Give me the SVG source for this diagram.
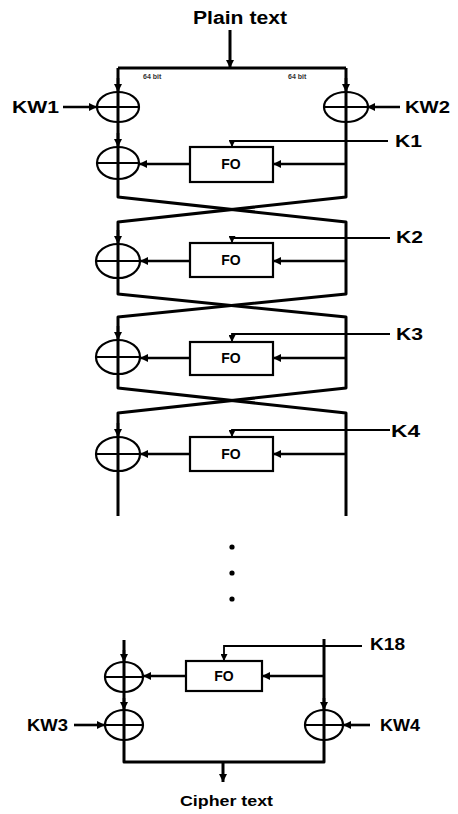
<svg xmlns="http://www.w3.org/2000/svg" width="458" height="814" viewBox="0 0 458 814">
<style>
.bg{fill:#fff}
.w{fill:none;stroke:#000;stroke-width:3;stroke-linejoin:round}
.a{fill:none;stroke:#000;stroke-width:2.6}
.k{fill:none;stroke:#000;stroke-width:1.8}
.x{fill:none;stroke:#000;stroke-width:2.2}
.box{fill:#fff;stroke:#000;stroke-width:2.2}
.t{font-family:"Liberation Sans",Arial,sans-serif;font-weight:bold;fill:#000}
.lab{font-size:17px}
.fo{font-size:14px;text-anchor:middle}
.sm{font-size:7px;fill:#333}
</style>
<defs>
<marker id="ah" viewBox="0 0 10 10" refX="10" refY="5" markerWidth="9" markerHeight="8" markerUnits="userSpaceOnUse" orient="auto">
<path d="M0,0 L10,5 L0,10 z" fill="#000"/>
</marker>
<marker id="ahs" viewBox="0 0 10 10" refX="10" refY="5" markerWidth="7" markerHeight="7" markerUnits="userSpaceOnUse" orient="auto">
<path d="M0,0 L10,5 L0,10 z" fill="#000"/>
</marker>
</defs>
<rect class="bg" width="458" height="814"/>

<g id="connectors">
  <line class="w" x1="230" y1="30" x2="230" y2="68" marker-end="url(#ah)"/>
  <line class="w" x1="118" y1="68" x2="346" y2="68"/>
  <path class="w" d="M118,68 V197 L346,222 V294 L118,317 V388 L346,413 V516"/>
  <path class="w" d="M346,68 V197 L118,222 V294 L346,317 V388 L118,413 V516"/>
  <line class="a" x1="118" y1="78" x2="118" y2="92" marker-end="url(#ah)"/>
  <line class="a" x1="346" y1="78" x2="346" y2="92" marker-end="url(#ah)"/>
  <line class="a" x1="118" y1="133" x2="118" y2="147" marker-end="url(#ah)"/>
  <line class="a" x1="118" y1="230" x2="118" y2="244" marker-end="url(#ah)"/>
  <line class="a" x1="118" y1="326" x2="118" y2="340" marker-end="url(#ah)"/>
  <line class="a" x1="118" y1="423" x2="118" y2="437" marker-end="url(#ah)"/>
  <line class="a" x1="63" y1="107" x2="97" y2="107" marker-end="url(#ah)"/>
  <line class="a" x1="400" y1="107" x2="367" y2="107" marker-end="url(#ah)"/>
  <polyline class="k" points="388,141 232,141 232,147" marker-end="url(#ahs)"/>
  <line class="a" x1="346" y1="164" x2="273" y2="164" marker-end="url(#ah)"/>
  <line class="a" x1="190" y1="164" x2="139" y2="164" marker-end="url(#ah)"/>
  <polyline class="k" points="390,238 232,238 232,243" marker-end="url(#ahs)"/>
  <line class="a" x1="346" y1="261" x2="273" y2="261" marker-end="url(#ah)"/>
  <line class="a" x1="190" y1="261" x2="140" y2="261" marker-end="url(#ah)"/>
  <polyline class="k" points="390,334 232,334 232,342" marker-end="url(#ahs)"/>
  <line class="a" x1="346" y1="358" x2="273" y2="358" marker-end="url(#ah)"/>
  <line class="a" x1="190" y1="358" x2="140" y2="358" marker-end="url(#ah)"/>
  <polyline class="k" points="390,430 232,430 232,437" marker-end="url(#ahs)"/>
  <line class="a" x1="346" y1="454" x2="273" y2="454" marker-end="url(#ah)"/>
  <line class="a" x1="190" y1="454" x2="140" y2="454" marker-end="url(#ah)"/>
  <path class="w" d="M124,640 V762 H324 V639"/>
  <line class="a" x1="124" y1="650" x2="124" y2="662" marker-end="url(#ah)"/>
  <line class="a" x1="124" y1="698" x2="124" y2="710" marker-end="url(#ah)"/>
  <line class="a" x1="324" y1="698" x2="324" y2="710" marker-end="url(#ah)"/>
  <polyline class="k" points="362,646 224,646 224,661" marker-end="url(#ahs)"/>
  <line class="a" x1="324" y1="676" x2="262" y2="676" marker-end="url(#ah)"/>
  <line class="a" x1="186" y1="676" x2="143" y2="676" marker-end="url(#ah)"/>
  <line class="a" x1="74" y1="725" x2="105" y2="725" marker-end="url(#ah)"/>
  <line class="a" x1="370" y1="725" x2="343" y2="725" marker-end="url(#ah)"/>
  <line class="w" x1="223" y1="762" x2="223" y2="782" marker-end="url(#ah)"/>
</g>

<g id="xor-kw1"><ellipse class="x" cx="118" cy="107" rx="21" ry="15"/><line class="x" x1="97" y1="107" x2="139" y2="107"/></g>
<g id="xor-kw2"><ellipse class="x" cx="346" cy="107" rx="22" ry="15"/><line class="x" x1="324" y1="107" x2="368" y2="107"/></g>
<g id="xor-r1"><ellipse class="x" cx="118" cy="163" rx="21" ry="16"/><line class="x" x1="97" y1="163" x2="139" y2="163"/></g>
<g id="xor-r2"><ellipse class="x" cx="118" cy="261" rx="22" ry="17"/><line class="x" x1="96" y1="261" x2="140" y2="261"/></g>
<g id="xor-r3"><ellipse class="x" cx="118" cy="357" rx="22" ry="17"/><line class="x" x1="96" y1="357" x2="140" y2="357"/></g>
<g id="xor-r4"><ellipse class="x" cx="118" cy="454" rx="22" ry="17"/><line class="x" x1="96" y1="454" x2="140" y2="454"/></g>
<g id="xor-r18"><ellipse class="x" cx="124" cy="677" rx="19" ry="15"/><line class="x" x1="105" y1="677" x2="143" y2="677"/></g>
<g id="xor-kw3"><ellipse class="x" cx="124" cy="725" rx="19" ry="15"/><line class="x" x1="105" y1="725" x2="143" y2="725"/></g>
<g id="xor-kw4"><ellipse class="x" cx="324" cy="725" rx="19" ry="15"/><line class="x" x1="305" y1="725" x2="343" y2="725"/></g>

<g id="fo1"><rect class="box" x="190" y="147" width="83" height="35"/><text class="t fo" x="231" y="169">FO</text></g>
<g id="fo2"><rect class="box" x="190" y="243" width="83" height="34"/><text class="t fo" x="231" y="265">FO</text></g>
<g id="fo3"><rect class="box" x="190" y="342" width="83" height="33"/><text class="t fo" x="231" y="363">FO</text></g>
<g id="fo4"><rect class="box" x="190" y="437" width="83" height="34"/><text class="t fo" x="231" y="459">FO</text></g>
<g id="fo18"><rect class="box" x="186" y="661" width="76" height="30"/><text class="t fo" x="224" y="681" font-size="13">FO</text></g>

<g id="labels">
  <text class="t" x="193" y="24" font-size="18" textLength="94" lengthAdjust="spacingAndGlyphs">Plain text</text>
  <text class="t sm" x="143" y="79">64 bit</text>
  <text class="t sm" x="288" y="79">64 bit</text>
  <text class="t lab" x="12" y="113" textLength="47" lengthAdjust="spacingAndGlyphs">KW1</text>
  <text class="t lab" x="405" y="113" textLength="45" lengthAdjust="spacingAndGlyphs">KW2</text>
  <text class="t lab" x="395" y="147" textLength="27" lengthAdjust="spacingAndGlyphs">K1</text>
  <text class="t lab" x="396" y="243" textLength="27" lengthAdjust="spacingAndGlyphs">K2</text>
  <text class="t lab" x="396" y="340" textLength="27" lengthAdjust="spacingAndGlyphs">K3</text>
  <text class="t lab" x="391" y="437" textLength="29" lengthAdjust="spacingAndGlyphs">K4</text>
  <text class="t lab" x="370" y="650" textLength="35" lengthAdjust="spacingAndGlyphs">K18</text>
  <text class="t lab" x="27" y="731" textLength="41" lengthAdjust="spacingAndGlyphs">KW3</text>
  <text class="t lab" x="380" y="731" textLength="40" lengthAdjust="spacingAndGlyphs">KW4</text>
  <text class="t" x="180" y="806" font-size="14" textLength="93" lengthAdjust="spacingAndGlyphs">Cipher text</text>
</g>

<g id="ellipsis">
  <circle cx="232" cy="547" r="2.6" fill="#000"/>
  <circle cx="232" cy="573" r="2.6" fill="#000"/>
  <circle cx="232" cy="599" r="2.6" fill="#000"/>
</g>
</svg>
